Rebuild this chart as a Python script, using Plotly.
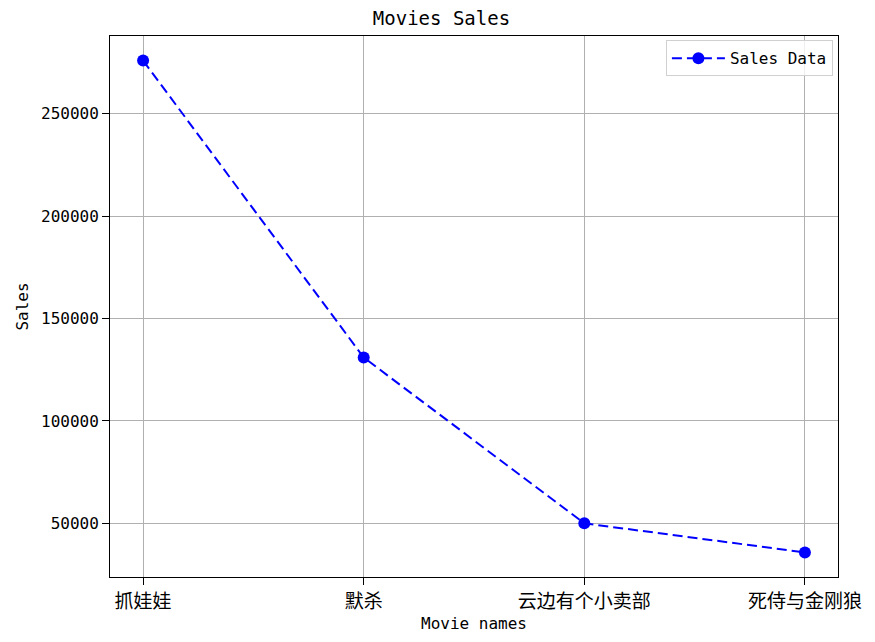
import plotly.graph_objects as go

movies = ["抓娃娃", "默杀", "云边有个小卖部", "死侍与金刚狼"]
sales = [276000, 131000, 50000, 35800]
y_ticks = [50000, 100000, 150000, 200000, 250000]

mono = "DejaVu Sans Mono, Noto Sans CJK SC, sans-serif"
cjk = "Noto Sans CJK SC, DejaVu Sans, sans-serif"

fig = go.Figure()
fig.add_trace(go.Scatter(
    x=list(range(len(movies))), y=sales, mode="lines+markers", name="Sales Data",
    line=dict(color="#0000ff", width=2, dash="10px,5px"),
    marker=dict(color="#0000ff", size=12, symbol="circle"),
))

lo, hi = min(sales), max(sales)
pad = (hi - lo) * 0.05

fig.update_layout(
    width=867, height=634,
    margin=dict(l=102, r=37, t=28, b=65),
    paper_bgcolor="white", plot_bgcolor="white",
    title=dict(text="Movies Sales", x=0.5, xanchor="center", y=0.994, yanchor="top",
               pad=dict(t=0, b=0),
               font=dict(family=mono, size=19, color="black")),
    showlegend=True,
    legend=dict(x=0.993, y=0.992, xanchor="right", yanchor="top", itemwidth=53,
                bordercolor="#d0d0d0", borderwidth=1, bgcolor="rgba(255,255,255,0.8)",
                font=dict(family=mono, size=16, color="black")),
    xaxis=dict(
        range=[-0.15, len(movies) - 1 + 0.15],
        tickmode="array", tickvals=list(range(len(movies))), ticktext=movies,
        tickfont=dict(family=cjk, size=19, color="black"),
        ticks="outside", ticklen=7, tickcolor="black",
        showgrid=True, gridcolor="#b0b0b0", gridwidth=1,
        showline=True, linecolor="black", linewidth=1, mirror=True,
        zeroline=False,
        title=dict(text="Movie names", font=dict(family=mono, size=16, color="black"), standoff=6),
    ),
    yaxis=dict(
        range=[lo - pad, hi + pad],
        tickmode="array", tickvals=y_ticks, ticktext=[str(v) for v in y_ticks],
        tickfont=dict(family=mono, size=16, color="black"),
        ticks="outside", ticklen=7, tickcolor="black",
        showgrid=True, gridcolor="#b0b0b0", gridwidth=1,
        showline=True, linecolor="black", linewidth=1, mirror=True,
        zeroline=False,
        title=dict(text="Sales", font=dict(family=mono, size=16, color="black"), standoff=8),
    ),
)

fig.write_html("out.html")
